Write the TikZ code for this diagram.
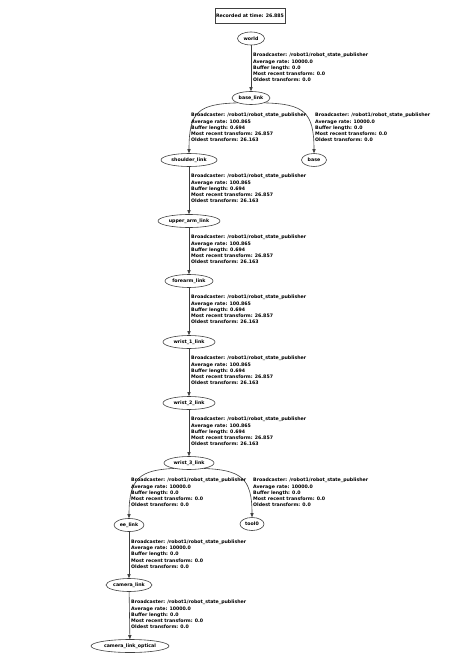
\documentclass[tikz,border=0pt]{standalone}
\usepackage{fontspec}
\setmainfont{DejaVu Sans}
\usetikzlibrary{shapes.geometric,arrows.meta}
\begin{document}
\begin{tikzpicture}[x=1pt,y=-1pt,
  link/.style={ellipse,draw=black!75,line width=0.6pt,inner sep=0pt,minimum height=13pt,font=\bfseries\fontsize{4.7}{5.5}\selectfont},
  lbl/.style={anchor=north west,align=left,inner sep=0pt,font=\bfseries\fontsize{4.7}{6.3}\selectfont},
  tfedge/.style={draw=black!75,line width=0.6pt,-{Triangle[length=4pt,width=3.2pt]}}]
\useasboundingbox (0,0) rectangle (474,668);
\newcommand{\dyn}{Broadcaster: /robot1/robot\_state\_publisher\\Average rate: 100.865\\Buffer length: 0.694\\Most recent transform: 26.857\\Oldest transform: 26.163}
\newcommand{\stat}{Broadcaster: /robot1/robot\_state\_publisher\\Average rate: 10000.0\\Buffer length: 0.0\\Most recent transform: 0.0\\Oldest transform: 0.0}
% nodes
\node[draw=black!75,line width=0.6pt,minimum width=70pt,minimum height=15pt,inner sep=0pt,font=\bfseries\fontsize{4.7}{5.5}\selectfont] (rec) at (250,15.5) {Recorded at time: 26.885};
\node[link,minimum width=27pt] (world) at (251,38.5) {world};
\node[link,minimum width=38pt] (base_link) at (251,98) {base\_link};
\node[link,minimum width=56pt] (shoulder) at (189,160) {shoulder\_link};
\node[link,minimum width=25pt] (base) at (314,160) {base};
\node[link,minimum width=62pt] (upper) at (189,221) {upper\_arm\_link};
\node[link,minimum width=48pt] (forearm) at (189,281) {forearm\_link};
\node[link,minimum width=52pt] (wrist1) at (189,342) {wrist\_1\_link};
\node[link,minimum width=52pt] (wrist2) at (189,403) {wrist\_2\_link};
\node[link,minimum width=50pt] (wrist3) at (189,463) {wrist\_3\_link};
\node[link,minimum width=30pt] (ee) at (129,525) {ee\_link};
\node[link,minimum width=24pt] (tool0) at (252,524) {tool0};
\node[link,minimum width=46pt] (camera) at (129,585) {camera\_link};
\node[link,minimum width=78pt] (optical) at (130,646) {camera\_link\_optical};
% edges
\draw[tfedge] (world) -- (base_link);
\draw[tfedge] (base_link.200) .. controls (198,104) and (189,112) .. (shoulder.north);
\draw[tfedge] (base_link.340) .. controls (304,104) and (314,112) .. (base.north);
\draw[tfedge] (shoulder) -- (upper);
\draw[tfedge] (upper) -- (forearm);
\draw[tfedge] (forearm) -- (wrist1);
\draw[tfedge] (wrist1) -- (wrist2);
\draw[tfedge] (wrist2) -- (wrist3);
\draw[tfedge] (wrist3.200) .. controls (140,470) and (129,478) .. (ee.north);
\draw[tfedge] (wrist3.340) .. controls (241,470) and (252,478) .. (tool0.north);
\draw[tfedge] (ee) -- (camera);
\draw[tfedge] (camera) -- (optical);
% labels
\node[lbl] (l1) at (253,53) {\stat};
\node[lbl] (l2) at (191,113) {\dyn};
\node[lbl] (l3) at (315,113) {\stat};
\node[lbl] (l4) at (191,174) {\dyn};
\node[lbl] (l5) at (191,235) {\dyn};
\node[lbl] (l6) at (191,295) {\dyn};
\node[lbl] (l7) at (191,356) {\dyn};
\node[lbl] (l8) at (191,417) {\dyn};
\node[lbl] (l9) at (131,478) {\stat};
\node[lbl] (l10) at (253,478) {\stat};
\node[lbl] (l11) at (131,539.5) {\stat};
\node[lbl] (l12) at (131,600) {\stat};
\end{tikzpicture}
\end{document}
